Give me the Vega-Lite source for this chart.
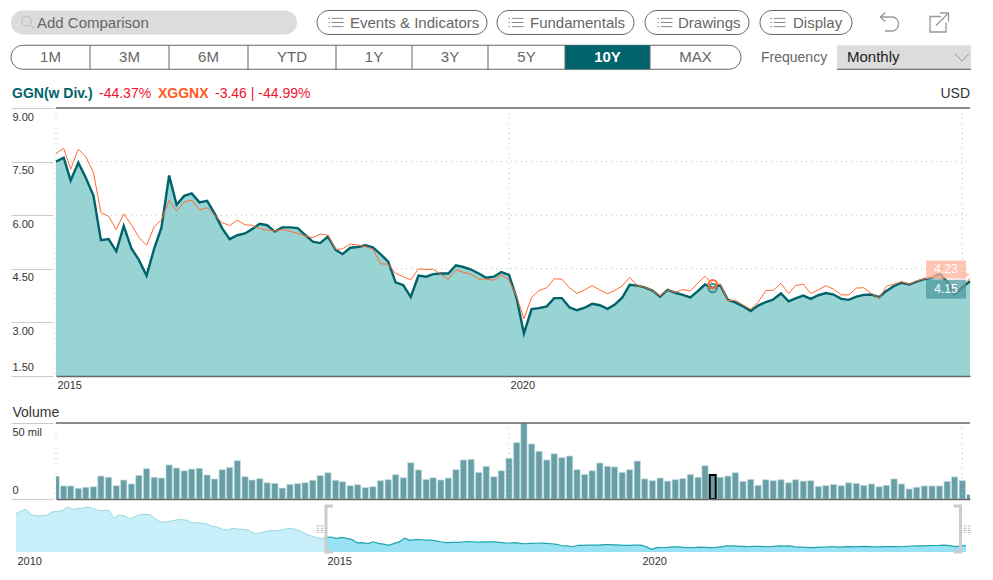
{"$schema":"https://vega.github.io/schema/vega-lite/v6.json","width":993,"height":580,"padding":0,"autosize":{"type":"none"},"background":"white","config":{"font":"Liberation Sans","view":{"stroke":null},"axis":{"labelFont":"Liberation Sans","titleFont":"Liberation Sans"}},
"datasets":{
"price":[
{"date":"2015-01-01","ggn":7.50,"xggnx":7.73,"vol":14.9},{"date":"2015-02-01","ggn":7.61,"xggnx":7.87,"vol":8.6},{"date":"2015-03-01","ggn":6.97,"xggnx":7.29,"vol":8.6},{"date":"2015-04-01","ggn":7.47,"xggnx":7.85,"vol":7.0},{"date":"2015-05-01","ggn":7.05,"xggnx":7.64,"vol":7.7},{"date":"2015-06-01","ggn":6.55,"xggnx":7.19,"vol":8.1},{"date":"2015-07-01","ggn":5.30,"xggnx":6.07,"vol":15.1},{"date":"2015-08-01","ggn":5.33,"xggnx":5.97,"vol":14.3},{"date":"2015-09-01","ggn":4.99,"xggnx":5.60,"vol":8.8},{"date":"2015-10-01","ggn":5.70,"xggnx":6.04,"vol":12.5},{"date":"2015-11-01","ggn":5.07,"xggnx":5.73,"vol":9.9},{"date":"2015-12-01","ggn":4.75,"xggnx":5.38,"vol":15.6},
{"date":"2016-01-01","ggn":4.31,"xggnx":5.16,"vol":20.0},{"date":"2016-02-01","ggn":5.07,"xggnx":5.68,"vol":14.3},{"date":"2016-03-01","ggn":5.65,"xggnx":5.87,"vol":13.8},{"date":"2016-04-01","ggn":7.11,"xggnx":6.41,"vol":22.4},{"date":"2016-05-01","ggn":6.29,"xggnx":6.12,"vol":20.4},{"date":"2016-06-01","ggn":6.54,"xggnx":6.37,"vol":18.6},{"date":"2016-07-01","ggn":6.61,"xggnx":6.42,"vol":19.7},{"date":"2016-08-01","ggn":6.36,"xggnx":6.15,"vol":20.2},{"date":"2016-09-01","ggn":6.40,"xggnx":6.21,"vol":15.8},{"date":"2016-10-01","ggn":6.05,"xggnx":6.00,"vol":13.2},{"date":"2016-11-01","ggn":5.63,"xggnx":5.79,"vol":19.3},{"date":"2016-12-01","ggn":5.33,"xggnx":5.71,"vol":20.8},
{"date":"2017-01-01","ggn":5.44,"xggnx":5.86,"vol":25.2},{"date":"2017-02-01","ggn":5.49,"xggnx":5.73,"vol":14.7},{"date":"2017-03-01","ggn":5.61,"xggnx":5.72,"vol":12.5},{"date":"2017-04-01","ggn":5.76,"xggnx":5.63,"vol":13.4},{"date":"2017-05-01","ggn":5.72,"xggnx":5.58,"vol":10.7},{"date":"2017-06-01","ggn":5.54,"xggnx":5.56,"vol":10.3},{"date":"2017-07-01","ggn":5.66,"xggnx":5.60,"vol":7.2},{"date":"2017-08-01","ggn":5.66,"xggnx":5.55,"vol":9.6},{"date":"2017-09-01","ggn":5.64,"xggnx":5.49,"vol":10.1},{"date":"2017-10-01","ggn":5.45,"xggnx":5.42,"vol":10.7},{"date":"2017-11-01","ggn":5.26,"xggnx":5.37,"vol":12.3},{"date":"2017-12-01","ggn":5.22,"xggnx":5.47,"vol":15.4},
{"date":"2018-01-01","ggn":5.40,"xggnx":5.44,"vol":17.3},{"date":"2018-02-01","ggn":5.03,"xggnx":5.04,"vol":12.3},{"date":"2018-03-01","ggn":4.91,"xggnx":5.06,"vol":11.4},{"date":"2018-04-01","ggn":5.09,"xggnx":5.19,"vol":8.8},{"date":"2018-05-01","ggn":5.11,"xggnx":5.17,"vol":9.4},{"date":"2018-06-01","ggn":5.16,"xggnx":5.12,"vol":7.5},{"date":"2018-07-01","ggn":5.10,"xggnx":5.05,"vol":8.1},{"date":"2018-08-01","ggn":4.91,"xggnx":4.64,"vol":12.1},{"date":"2018-09-01","ggn":4.70,"xggnx":4.63,"vol":12.7},{"date":"2018-10-01","ggn":4.12,"xggnx":4.37,"vol":16.0},{"date":"2018-11-01","ggn":4.04,"xggnx":4.28,"vol":14.0},{"date":"2018-12-01","ggn":3.71,"xggnx":4.19,"vol":23.9},
{"date":"2019-01-01","ggn":4.31,"xggnx":4.50,"vol":19.1},{"date":"2019-02-01","ggn":4.28,"xggnx":4.48,"vol":12.9},{"date":"2019-03-01","ggn":4.35,"xggnx":4.49,"vol":14.0},{"date":"2019-04-01","ggn":4.37,"xggnx":4.35,"vol":12.5},{"date":"2019-05-01","ggn":4.37,"xggnx":4.21,"vol":13.8},{"date":"2019-06-01","ggn":4.60,"xggnx":4.47,"vol":19.3},{"date":"2019-07-01","ggn":4.55,"xggnx":4.40,"vol":25.7},{"date":"2019-08-01","ggn":4.48,"xggnx":4.35,"vol":26.1},{"date":"2019-09-01","ggn":4.37,"xggnx":4.21,"vol":17.5},{"date":"2019-10-01","ggn":4.25,"xggnx":4.21,"vol":21.5},{"date":"2019-11-01","ggn":4.28,"xggnx":4.18,"vol":14.7},{"date":"2019-12-01","ggn":4.41,"xggnx":4.33,"vol":18.6},
{"date":"2020-01-01","ggn":4.33,"xggnx":4.18,"vol":26.8},{"date":"2020-02-01","ggn":3.67,"xggnx":3.72,"vol":37.1},{"date":"2020-03-01","ggn":2.69,"xggnx":3.10,"vol":50},{"date":"2020-04-01","ggn":3.37,"xggnx":3.70,"vol":36.2},{"date":"2020-05-01","ggn":3.40,"xggnx":3.89,"vol":31.4},{"date":"2020-06-01","ggn":3.45,"xggnx":3.97,"vol":25.7},{"date":"2020-07-01","ggn":3.68,"xggnx":4.22,"vol":29.8},{"date":"2020-08-01","ggn":3.68,"xggnx":4.21,"vol":27.2},{"date":"2020-09-01","ggn":3.42,"xggnx":3.97,"vol":28.3},{"date":"2020-10-01","ggn":3.34,"xggnx":3.81,"vol":19.3},{"date":"2020-11-01","ggn":3.41,"xggnx":3.91,"vol":16.2},{"date":"2020-12-01","ggn":3.52,"xggnx":4.03,"vol":18.6},
{"date":"2021-01-01","ggn":3.48,"xggnx":3.91,"vol":23.7},{"date":"2021-02-01","ggn":3.38,"xggnx":3.80,"vol":21.5},{"date":"2021-03-01","ggn":3.49,"xggnx":3.89,"vol":21.1},{"date":"2021-04-01","ggn":3.69,"xggnx":4.02,"vol":17.5},{"date":"2021-05-01","ggn":4.05,"xggnx":4.26,"vol":19.3},{"date":"2021-06-01","ggn":4.03,"xggnx":4.03,"vol":25.0},{"date":"2021-07-01","ggn":3.98,"xggnx":3.99,"vol":13.2},{"date":"2021-08-01","ggn":3.89,"xggnx":3.89,"vol":12.1},{"date":"2021-09-01","ggn":3.72,"xggnx":3.74,"vol":13.8},{"date":"2021-10-01","ggn":3.91,"xggnx":3.91,"vol":11.8},{"date":"2021-11-01","ggn":3.83,"xggnx":3.84,"vol":12.7},{"date":"2021-12-01","ggn":3.77,"xggnx":3.92,"vol":13.4},
{"date":"2022-01-01","ggn":3.70,"xggnx":3.88,"vol":16.2},{"date":"2022-02-01","ggn":3.88,"xggnx":4.11,"vol":14.3},{"date":"2022-03-01","ggn":4.06,"xggnx":4.29,"vol":21.9},{"date":"2022-04-01","ggn":3.96,"xggnx":4.07,"vol":15.8},{"date":"2022-05-01","ggn":4.04,"xggnx":4.07,"vol":14.3},{"date":"2022-06-01","ggn":3.63,"xggnx":3.61,"vol":15.1},{"date":"2022-07-01","ggn":3.56,"xggnx":3.62,"vol":17.3},{"date":"2022-08-01","ggn":3.45,"xggnx":3.49,"vol":11.6},{"date":"2022-09-01","ggn":3.32,"xggnx":3.37,"vol":12.9},{"date":"2022-10-01","ggn":3.47,"xggnx":3.56,"vol":9.0},{"date":"2022-11-01","ggn":3.57,"xggnx":3.89,"vol":12.7},{"date":"2022-12-01","ggn":3.64,"xggnx":3.90,"vol":12.1},
{"date":"2023-01-01","ggn":3.81,"xggnx":4.09,"vol":12.7},{"date":"2023-02-01","ggn":3.59,"xggnx":3.81,"vol":10.7},{"date":"2023-03-01","ggn":3.67,"xggnx":4.03,"vol":12.7},{"date":"2023-04-01","ggn":3.75,"xggnx":4.07,"vol":11.8},{"date":"2023-05-01","ggn":3.66,"xggnx":3.81,"vol":12.1},{"date":"2023-06-01","ggn":3.76,"xggnx":3.91,"vol":8.3},{"date":"2023-07-01","ggn":3.82,"xggnx":4.03,"vol":8.8},{"date":"2023-08-01","ggn":3.78,"xggnx":3.93,"vol":9.6},{"date":"2023-09-01","ggn":3.66,"xggnx":3.77,"vol":8.8},{"date":"2023-10-01","ggn":3.63,"xggnx":3.77,"vol":10.7},{"date":"2023-11-01","ggn":3.72,"xggnx":3.96,"vol":10.3},{"date":"2023-12-01","ggn":3.77,"xggnx":3.97,"vol":9.0},
{"date":"2024-01-01","ggn":3.78,"xggnx":3.81,"vol":9.9},{"date":"2024-02-01","ggn":3.71,"xggnx":3.67,"vol":8.1},{"date":"2024-03-01","ggn":3.88,"xggnx":4.01,"vol":9.0},{"date":"2024-04-01","ggn":4.02,"xggnx":4.07,"vol":13.2},{"date":"2024-05-01","ggn":4.11,"xggnx":4.14,"vol":9.9},{"date":"2024-06-01","ggn":4.06,"xggnx":4.07,"vol":6.6},{"date":"2024-07-01","ggn":4.14,"xggnx":4.16,"vol":7.7},{"date":"2024-08-01","ggn":4.21,"xggnx":4.22,"vol":8.6},{"date":"2024-09-01","ggn":4.25,"xggnx":4.28,"vol":8.6},{"date":"2024-10-01","ggn":4.37,"xggnx":4.26,"vol":8.6},{"date":"2024-11-01","ggn":4.14,"xggnx":4.14,"vol":11.6},{"date":"2024-12-01","ggn":3.79,"xggnx":3.81,"vol":14.5},
{"date":"2025-01-01","ggn":3.98,"xggnx":4.00,"vol":12.1},{"date":"2025-02-01","ggn":4.15,"xggnx":4.23,"vol":2.9}],
"hist":[
{"date":"2010-01-01","ggn":17.0},{"date":"2010-02-01","ggn":18.06},{"date":"2010-03-01","ggn":18.73},{"date":"2010-04-01","ggn":16.59},{"date":"2010-05-01","ggn":16.05},{"date":"2010-06-01","ggn":16.19},{"date":"2010-07-01","ggn":16.32},{"date":"2010-08-01","ggn":17.66},{"date":"2010-09-01","ggn":17.93},{"date":"2010-10-01","ggn":18.20},{"date":"2010-11-01","ggn":19.67},{"date":"2010-12-01","ggn":18.73},
{"date":"2011-01-01","ggn":19.13},{"date":"2011-02-01","ggn":19.27},{"date":"2011-03-01","ggn":19.67},{"date":"2011-04-01","ggn":19.0},{"date":"2011-05-01","ggn":18.33},{"date":"2011-06-01","ggn":18.20},{"date":"2011-07-01","ggn":18.46},{"date":"2011-08-01","ggn":15.1},{"date":"2011-09-01","ggn":16.45},{"date":"2011-10-01","ggn":16.19},{"date":"2011-11-01","ggn":14.85},{"date":"2011-12-01","ggn":15.79},
{"date":"2012-01-01","ggn":16.72},{"date":"2012-02-01","ggn":16.72},{"date":"2012-03-01","ggn":16.59},{"date":"2012-04-01","ggn":14.98},{"date":"2012-05-01","ggn":13.64},{"date":"2012-06-01","ggn":13.64},{"date":"2012-07-01","ggn":14.04},{"date":"2012-08-01","ggn":14.45},{"date":"2012-09-01","ggn":14.71},{"date":"2012-10-01","ggn":14.31},{"date":"2012-11-01","ggn":13.37},{"date":"2012-12-01","ggn":13.37},
{"date":"2013-01-01","ggn":13.1},{"date":"2013-02-01","ggn":12.84},{"date":"2013-03-01","ggn":11.90},{"date":"2013-04-01","ggn":11.63},{"date":"2013-05-01","ggn":10.70},{"date":"2013-06-01","ggn":10.43},{"date":"2013-07-01","ggn":11.10},{"date":"2013-08-01","ggn":10.83},{"date":"2013-09-01","ggn":10.70},{"date":"2013-10-01","ggn":10.43},{"date":"2013-11-01","ggn":9.09},{"date":"2013-12-01","ggn":9.09},
{"date":"2014-01-01","ggn":9.76},{"date":"2014-02-01","ggn":10.16},{"date":"2014-03-01","ggn":10.16},{"date":"2014-04-01","ggn":10.30},{"date":"2014-05-01","ggn":10.70},{"date":"2014-06-01","ggn":11.10},{"date":"2014-07-01","ggn":10.83},{"date":"2014-08-01","ggn":10.16},{"date":"2014-09-01","ggn":8.96},{"date":"2014-10-01","ggn":8.15},{"date":"2014-11-01","ggn":7.48},{"date":"2014-12-01","ggn":6.95},{"date":"2015-01-01","ggn":7.50}],
"frame":[{"start":"2015-01-01","end":"2025-02-01","priceTop":9,"volTop":50}],
"yearMarks":[{"date":"2015-01-01","priceTop":9,"priceBottom":1.5,"volTop":50,"volBottom":0},{"date":"2020-01-01","priceTop":9,"priceBottom":1.5,"volTop":50,"volBottom":0},{"date":"2025-01-01","priceTop":9,"priceBottom":1.5,"volTop":50,"volBottom":0}],
"levels":[{"start":"2015-01-01","end":"2025-02-01","level":3},{"start":"2015-01-01","end":"2025-02-01","level":4.5},{"start":"2015-01-01","end":"2025-02-01","level":6},{"start":"2015-01-01","end":"2025-02-01","level":7.5}],
"edgeBars":[{"date":"2015-01-01","until":"2015-01-14","vol":14.9,"base":0},{"date":"2025-01-19","until":"2025-02-01","vol":2.9,"base":0}],
"brackets":[{"date":"2015-01-01","ggn":10.84}],
"bracketsEnd":[{"date":"2025-02-01","ggn":10.84}]
},
"resolve":{"scale":{"x":"independent","y":"independent","color":"independent"},"axis":{"x":"independent","y":"independent"}},
"layer":[
{"data":{"values":[
{"row":"tools","label":"Add Comparison","start":0,"icon":1,"text":2,"end":3},
{"row":"tools","label":"Events & Indicators","start":4,"icon":5,"text":6,"end":7},
{"row":"tools","label":"Fundamentals","start":8,"icon":9,"text":10,"end":11},
{"row":"tools","label":"Drawings","start":12,"icon":13,"text":14,"end":15},
{"row":"tools","label":"Display","start":16,"icon":17,"text":18,"end":19}]},
"encoding":{"y":{"field":"row","type":"nominal","scale":{"type":"point","domain":["tools","range","legend"],"range":[22.5,92],"padding":0},"axis":null}},
"layer":[
{"transform":[{"filter":"datum.start==0"}],"mark":{"type":"bar","orient":"horizontal","height":24,"cornerRadius":12,"fill":"#DCDCDC"},"encoding":{"x":{"field":"start","type":"quantitative","axis":null,"scale":{"domain":[0,1,2,3,4,5,6,7,8,9,10,11,12,13,14,15,16,17,18,19,20,21,22],"range":[11,28,37,297,317,336,350,487,497,516,530,634,645,665,678,749,760,778,793,852,889,939,993]}},"x2":{"field":"end"}}},
{"transform":[{"filter":"datum.start>0"}],"mark":{"type":"bar","orient":"horizontal","height":24,"cornerRadius":12,"fill":"white","stroke":"#666666","strokeWidth":1},"encoding":{"x":{"field":"start","type":"quantitative","axis":null,"scale":{"domain":[0,1,2,3,4,5,6,7,8,9,10,11,12,13,14,15,16,17,18,19,20,21,22],"range":[11,28,37,297,317,336,350,487,497,516,530,634,645,665,678,749,760,778,793,852,889,939,993]}},"x2":{"field":"end"}}},
{"mark":{"type":"text","align":"left","baseline":"middle","fontSize":15,"color":"#666666","dy":0.5},"encoding":{"x":{"field":"text","type":"quantitative","axis":null,"scale":{"domain":[0,1,2,3,4,5,6,7,8,9,10,11,12,13,14,15,16,17,18,19,20,21,22],"range":[11,28,37,297,317,336,350,487,497,516,530,634,645,665,678,749,760,778,793,852,889,939,993]}},"text":{"field":"label"}}},
{"transform":[{"filter":"datum.start>0"}],"mark":{"type":"point","shape":"M-1,-0.55H-0.8M-1,0H-0.8M-1,0.55H-0.8M-0.55,-0.55H1M-0.55,0H1M-0.55,0.55H1","size":225,"filled":false,"stroke":"#888888","strokeWidth":1,"opacity":1},"encoding":{"x":{"field":"icon","type":"quantitative","axis":null,"scale":{"domain":[0,1,2,3,4,5,6,7,8,9,10,11,12,13,14,15,16,17,18,19,20,21,22],"range":[11,28,37,297,317,336,350,487,497,516,530,634,645,665,678,749,760,778,793,852,889,939,993]}}}},
{"transform":[{"filter":"datum.start==0"}],"mark":{"type":"point","shape":"M0.5,-0.2A0.7,0.7 0 1,0 -0.9,-0.2A0.7,0.7 0 1,0 0.5,-0.2M0.3,0.3L1,1","size":196,"filled":false,"stroke":"#BBBBBB","strokeWidth":1,"opacity":1},"encoding":{"x":{"field":"icon","type":"quantitative","axis":null,"scale":{"domain":[0,1,2,3,4,5,6,7,8,9,10,11,12,13,14,15,16,17,18,19,20,21,22],"range":[11,28,37,297,317,336,350,487,497,516,530,634,645,665,678,749,760,778,793,852,889,939,993]}}}},
{"data":{"values":[{"row":"tools","icon":20}]},"mark":{"type":"point","shape":"M-0.9,-0.55L-0.35,-1M-0.9,-0.55L-0.35,-0.1M-0.9,-0.55L0.35,-0.55A0.6,0.7 0 0 1 0.35,0.85L-0.4,0.85","size":400,"filled":false,"stroke":"#999999","strokeWidth":1.3,"opacity":1},"encoding":{"x":{"field":"icon","type":"quantitative","axis":null,"scale":{"domain":[0,1,2,3,4,5,6,7,8,9,10,11,12,13,14,15,16,17,18,19,20,21,22],"range":[11,28,37,297,317,336,350,487,497,516,530,634,645,665,678,749,760,778,793,852,889,939,993]}}}},
{"data":{"values":[{"row":"tools","icon":21}]},"mark":{"type":"point","shape":"M0.2,-0.6L-0.9,-0.6L-0.9,0.95L0.7,0.95L0.7,0M-0.3,0.3L0.85,-0.85M0.1,-0.95L0.95,-0.95L0.95,-0.1","size":400,"filled":false,"stroke":"#999999","strokeWidth":1.3,"opacity":1},"encoding":{"x":{"field":"icon","type":"quantitative","axis":null,"scale":{"domain":[0,1,2,3,4,5,6,7,8,9,10,11,12,13,14,15,16,17,18,19,20,21,22],"range":[11,28,37,297,317,336,350,487,497,516,530,634,645,665,678,749,760,778,793,852,889,939,993]}}}}
]},
{"data":{"values":[
{"row":"range","label":"1M","start":0,"mid":0.5,"end":1},{"row":"range","label":"3M","start":1,"mid":1.5,"end":2},{"row":"range","label":"6M","start":2,"mid":2.5,"end":3},{"row":"range","label":"YTD","start":3,"mid":3.5,"end":4},{"row":"range","label":"1Y","start":4,"mid":4.5,"end":5},{"row":"range","label":"3Y","start":5,"mid":5.5,"end":6},{"row":"range","label":"5Y","start":6,"mid":6.5,"end":7},{"row":"range","label":"10Y","start":7,"mid":7.5,"end":8},{"row":"range","label":"MAX","start":8,"mid":8.5,"end":9}]},
"encoding":{"y":{"field":"row","type":"nominal","scale":{"type":"point","domain":["tools","range","legend"],"range":[22.5,92],"padding":0},"axis":null}},
"layer":[
{"data":{"values":[{"row":"range","start":0,"end":9}]},"mark":{"type":"bar","orient":"horizontal","height":24,"cornerRadius":12,"fill":"white","stroke":"#666666","strokeWidth":1},"encoding":{"x":{"field":"start","type":"quantitative","axis":null,"scale":{"domain":[0,1,2,3,4,5,6,7,8,9,10,11,12,13,14],"range":[11,90,169,248,336,412,488,565,650,741,761,837,847,962,971]}},"x2":{"field":"end"}}},
{"transform":[{"filter":"datum.label=='10Y'"}],"mark":{"type":"bar","orient":"horizontal","height":24,"fill":"#00636B"},"encoding":{"x":{"field":"start","type":"quantitative","axis":null,"scale":{"domain":[0,1,2,3,4,5,6,7,8,9,10,11,12,13,14],"range":[11,90,169,248,336,412,488,565,650,741,761,837,847,962,971]}},"x2":{"field":"end"}}},
{"transform":[{"filter":"datum.start>0"}],"mark":{"type":"tick","size":24,"thickness":1,"orient":"vertical","color":"#666666","opacity":1},"encoding":{"x":{"field":"start","type":"quantitative","axis":null,"scale":{"domain":[0,1,2,3,4,5,6,7,8,9,10,11,12,13,14],"range":[11,90,169,248,336,412,488,565,650,741,761,837,847,962,971]}}}},
{"transform":[{"filter":"datum.label!='10Y'"}],"mark":{"type":"text","align":"center","baseline":"middle","fontSize":15,"color":"#666666"},"encoding":{"x":{"field":"mid","type":"quantitative","axis":null,"scale":{"domain":[0,1,2,3,4,5,6,7,8,9,10,11,12,13,14],"range":[11,90,169,248,336,412,488,565,650,741,761,837,847,962,971]}},"text":{"field":"label"}}},
{"transform":[{"filter":"datum.label=='10Y'"}],"mark":{"type":"text","align":"center","baseline":"middle","fontSize":15,"fontWeight":"bold","color":"white"},"encoding":{"x":{"field":"mid","type":"quantitative","axis":null,"scale":{"domain":[0,1,2,3,4,5,6,7,8,9,10,11,12,13,14],"range":[11,90,169,248,336,412,488,565,650,741,761,837,847,962,971]}},"text":{"field":"label"}}},
{"data":{"values":[{"row":"range","label":"Frequency","start":10}]},"mark":{"type":"text","align":"left","baseline":"middle","fontSize":14,"color":"#666666","dy":1},"encoding":{"x":{"field":"start","type":"quantitative","axis":null,"scale":{"domain":[0,1,2,3,4,5,6,7,8,9,10,11,12,13,14],"range":[11,90,169,248,336,412,488,565,650,741,761,837,847,962,971]}},"text":{"field":"label"}}},
{"data":{"values":[{"row":"range","start":11,"end":14}]},"mark":{"type":"bar","orient":"horizontal","height":24,"fill":"#DCDCDC"},"encoding":{"x":{"field":"start","type":"quantitative","axis":null,"scale":{"domain":[0,1,2,3,4,5,6,7,8,9,10,11,12,13,14],"range":[11,90,169,248,336,412,488,565,650,741,761,837,847,962,971]}},"x2":{"field":"end"}}},
{"data":{"values":[{"row":"range","start":11,"end":14}]},"mark":{"type":"bar","orient":"horizontal","height":1,"yOffset":12,"fill":"#555555"},"encoding":{"x":{"field":"start","type":"quantitative","axis":null,"scale":{"domain":[0,1,2,3,4,5,6,7,8,9,10,11,12,13,14],"range":[11,90,169,248,336,412,488,565,650,741,761,837,847,962,971]}},"x2":{"field":"end"}}},
{"data":{"values":[{"row":"range","label":"Monthly","start":12}]},"mark":{"type":"text","align":"left","baseline":"middle","fontSize":15,"color":"#222222"},"encoding":{"x":{"field":"start","type":"quantitative","axis":null,"scale":{"domain":[0,1,2,3,4,5,6,7,8,9,10,11,12,13,14],"range":[11,90,169,248,336,412,488,565,650,741,761,837,847,962,971]}},"text":{"field":"label"}}},
{"data":{"values":[{"row":"range","start":13}]},"mark":{"type":"point","shape":"M-1,-0.5L0,0.55L1,-0.5","size":196,"filled":false,"stroke":"#999999","strokeWidth":1,"opacity":1},"encoding":{"x":{"field":"start","type":"quantitative","axis":null,"scale":{"domain":[0,1,2,3,4,5,6,7,8,9,10,11,12,13,14],"range":[11,90,169,248,336,412,488,565,650,741,761,837,847,962,971]}}}}
]},
{"data":{"values":[
{"row":"legend","label":"GGN(w Div.)","slot":0,"kind":"fund"},{"row":"legend","label":"-44.37%","slot":1,"kind":"change"},{"row":"legend","label":"XGGNX","slot":2,"kind":"index"},{"row":"legend","label":"-3.46 | -44.99%","slot":3,"kind":"change"}]},
"encoding":{"y":{"field":"row","type":"nominal","scale":{"type":"point","domain":["tools","range","legend"],"range":[22.5,92],"padding":0},"axis":null},"x":{"field":"slot","type":"quantitative","axis":null,"scale":{"domain":[0,1,2,3,4],"range":[12,99,158,215,970]}},"text":{"field":"label"},"color":{"field":"kind","type":"nominal","legend":null,"scale":{"domain":["fund","change","index","unit"],"range":["#00636B","#F0142D","#FF5A1F","#333333"]}}},
"layer":[
{"transform":[{"filter":"datum.kind!='change'"}],"mark":{"type":"text","align":"left","baseline":"middle","fontSize":14,"fontWeight":"bold","dy":1.5}},
{"transform":[{"filter":"datum.kind=='change'"}],"mark":{"type":"text","align":"left","baseline":"middle","fontSize":14,"dy":1.5}},
{"data":{"values":[{"row":"legend","label":"USD","slot":4,"kind":"unit"}]},"mark":{"type":"text","align":"right","baseline":"middle","fontSize":14,"dy":1.5}}
]},
{"data":{"name":"price"},
"encoding":{"x":{"field":"date","type":"temporal","scale":{"type":"utc","domain":[{"year":2015,"month":1,"date":1,"utc":true},{"year":2025,"month":2,"date":1,"utc":true}],"range":[56,970],"nice":false},"axis":{"orient":"bottom","offset":-204,"values":[{"year":2015,"month":1,"date":1,"utc":true},{"year":2020,"month":1,"date":1,"utc":true},{"year":2025,"month":1,"date":1,"utc":true}],"format":"%Y","labelExpr":"datum.label=='2025'?'':datum.label","labelAlign":"left","labelOffset":1,"labelPadding":3,"labelFontSize":11,"labelColor":"#333333","labelOverlap":false,"labelBound":false,"labelFlush":false,"ticks":false,"domain":true,"domainColor":"#666666","domainWidth":1.5,"grid":false,"zindex":1,"title":null}},
"y":{"field":"ggn","type":"quantitative","scale":{"domain":[1.5,9],"range":[376,108],"zero":false,"nice":false},"axis":{"orient":"left","offset":-53,"values":[1.5,3,4.5,6,7.5,9],"format":".2f","domain":false,"tickSize":42,"tickColor":"#CCCCCC","tickWidth":1,"labelAlign":"left","labelPadding":-1,"labelBaseline":{"condition":{"test":"datum.value==1.5","value":"bottom"},"value":"top"},"labelOffset":{"condition":{"test":"datum.value==1.5","value":-4},"value":3},"labelFontSize":11,"labelColor":"#333333","labelBound":false,"labelFlush":false,"labelOverlap":false,"grid":false,"zindex":1,"title":null}}},
"layer":[
{"mark":{"type":"area","fill":"#99D4D4","line":false},"encoding":{"y2":{"datum":1.5}}},
{"data":{"name":"levels"},"mark":{"type":"rule","stroke":"#BDBDBD","strokeWidth":1,"strokeDash":[1,4]},"encoding":{"x":{"field":"start","type":"temporal"},"x2":{"field":"end"},"y":{"field":"level","type":"quantitative"}}},
{"data":{"name":"yearMarks"},"mark":{"type":"rule","stroke":"#BDBDBD","strokeWidth":1,"strokeDash":[1,4]},"encoding":{"y":{"field":"priceTop","type":"quantitative"},"y2":{"field":"priceBottom"}}},
{"mark":{"type":"line","stroke":"#00636B","strokeWidth":2.4,"interpolate":"linear"}},
{"mark":{"type":"line","stroke":"#FF6A33","strokeWidth":1,"interpolate":"linear"},"encoding":{"y":{"field":"xggnx","type":"quantitative"}}},
{"transform":[{"filter":"utcyear(datum.date)==2022&&utcmonth(datum.date)==3"}],"mark":{"type":"point","filled":false,"stroke":"#3E8A90","strokeWidth":2,"size":70,"opacity":1}},
{"transform":[{"filter":"utcyear(datum.date)==2022&&utcmonth(datum.date)==3"}],"mark":{"type":"point","filled":false,"stroke":"#FF6A33","strokeWidth":2,"size":70,"opacity":1},"encoding":{"y":{"field":"xggnx","type":"quantitative"}}},
{"transform":[{"filter":"utcyear(datum.date)==2025&&utcmonth(datum.date)==1"}],"mark":{"type":"rect","width":40,"height":18,"xOffset":-24,"yOffset":-9,"fill":"#FFB39A","opacity":0.75},"encoding":{"y":{"field":"xggnx","type":"quantitative"}}},
{"transform":[{"filter":"utcyear(datum.date)==2025&&utcmonth(datum.date)==1"}],"mark":{"type":"point","shape":"triangle-right","size":40,"filled":true,"fill":"#FFB39A","opacity":0.75,"xOffset":-3,"yOffset":-4},"encoding":{"y":{"field":"xggnx","type":"quantitative"}}},
{"transform":[{"filter":"utcyear(datum.date)==2025&&utcmonth(datum.date)==1"}],"mark":{"type":"rect","width":40,"height":19,"xOffset":-24,"yOffset":8,"fill":"#4F9AA0","opacity":0.75}},
{"transform":[{"filter":"utcyear(datum.date)==2025&&utcmonth(datum.date)==1"}],"mark":{"type":"text","align":"center","baseline":"middle","fontSize":12,"color":"white","dx":-24,"dy":-9},"encoding":{"y":{"field":"xggnx","type":"quantitative"},"text":{"field":"xggnx","format":".2f"}}},
{"transform":[{"filter":"utcyear(datum.date)==2025&&utcmonth(datum.date)==1"}],"mark":{"type":"text","align":"center","baseline":"middle","fontSize":12,"color":"white","dx":-24,"dy":8},"encoding":{"text":{"field":"ggn","format":".2f"}}},
{"data":{"name":"frame"},"mark":{"type":"rule","stroke":"#666666","strokeWidth":1.5},"encoding":{"x":{"field":"start","type":"temporal"},"x2":{"field":"end"},"y":{"field":"priceTop","type":"quantitative"}}}
]},
{"data":{"name":"price"},
"encoding":{"x":{"field":"date","type":"temporal","scale":{"type":"utc","domain":[{"year":2015,"month":1,"date":1,"utc":true},{"year":2025,"month":2,"date":1,"utc":true}],"range":[56,970],"nice":false,"padding":0},"axis":{"orient":"bottom","offset":-81,"values":[{"year":2015,"month":1,"date":1,"utc":true},{"year":2020,"month":1,"date":1,"utc":true},{"year":2025,"month":1,"date":1,"utc":true}],"labels":false,"ticks":false,"domain":true,"domainColor":"#666666","domainWidth":1.5,"grid":false,"zindex":1,"title":null}},
"y":{"field":"vol","type":"quantitative","stack":null,"scale":{"domain":[0,50],"range":[499,423],"nice":false,"padding":0},"axis":{"orient":"left","offset":-53,"values":[0,50],"labelExpr":"datum.value==50?'50 mil':'0'","domain":false,"tickSize":42,"tickColor":"#CCCCCC","tickWidth":1,"labelAlign":"left","labelPadding":-1,"labelBaseline":{"condition":{"test":"datum.value==0","value":"bottom"},"value":"top"},"labelOffset":{"condition":{"test":"datum.value==0","value":-4},"value":3},"labelFontSize":11,"labelColor":"#333333","labelBound":false,"labelFlush":false,"labelOverlap":false,"grid":false,"title":"Volume","titleAngle":0,"titleAlign":"left","titleBaseline":"middle","titleX":-41,"titleY":412,"titleFontSize":14,"titleFontWeight":"normal","titleColor":"#333333","zindex":1}}},
"layer":[
{"transform":[{"filter":"!(utcyear(datum.date)==2015&&utcmonth(datum.date)==0)&&!(utcyear(datum.date)==2025&&utcmonth(datum.date)==1)"}],"mark":{"type":"bar","width":6.3,"fill":"#689FA6","stroke":"#C7DFE1","strokeWidth":0.7}},
{"data":{"name":"edgeBars"},"mark":{"type":"rect","fill":"#689FA6"},"encoding":{"x2":{"field":"until"},"y2":{"field":"base"}}},
{"transform":[{"filter":"utcyear(datum.date)==2022&&utcmonth(datum.date)==3"}],"mark":{"type":"bar","width":6,"fill":"#689FA6","fillOpacity":0,"stroke":"#000000","strokeWidth":2}},
{"data":{"name":"yearMarks"},"mark":{"type":"rule","stroke":"#BDBDBD","strokeWidth":1,"strokeDash":[1,4]},"encoding":{"y":{"field":"volTop","type":"quantitative"},"y2":{"field":"volBottom"}}},
{"data":{"name":"frame"},"mark":{"type":"rule","stroke":"#666666","strokeWidth":1.5},"encoding":{"x":{"field":"start","type":"temporal"},"x2":{"field":"end"},"y":{"field":"volTop","type":"quantitative"}}}
]},
{"encoding":{"x":{"field":"t","type":"quantitative","scale":{"domain":[1262304000000,1420070400000,1577836800000,1738368000000],"range":[16,326,641,966],"nice":false,"zero":false},"axis":{"orient":"bottom","offset":-28,"values":[1262304000000,1420070400000,1577836800000],"labelExpr":"utcFormat(datum.value,'%Y')","labelAlign":"left","labelOffset":1,"labelPadding":3,"labelFontSize":11,"labelColor":"#333333","labelOverlap":false,"labelBound":false,"labelFlush":false,"ticks":false,"domain":false,"grid":false,"title":null}},
"y":{"field":"ggn","type":"quantitative","scale":{"domain":[1.6,20],"range":[552,506.2],"zero":false,"nice":false},"axis":null}},
"layer":[
{"data":{"name":"hist"},"transform":[{"calculate":"time(datum.date)","as":"t"}],"mark":{"type":"area","fill":"#C9EFFA","orient":"vertical"},"encoding":{"y2":{"datum":1.6}}},
{"data":{"name":"hist"},"transform":[{"calculate":"time(datum.date)","as":"t"}],"mark":{"type":"line","stroke":"#9BD9DE","strokeWidth":1}},
{"data":{"name":"price"},"transform":[{"calculate":"time(datum.date)","as":"t"}],"mark":{"type":"area","fill":"#99E1F5","orient":"vertical"},"encoding":{"y2":{"datum":1.6}}},
{"data":{"name":"price"},"transform":[{"calculate":"time(datum.date)","as":"t"}],"mark":{"type":"line","stroke":"#1FA5AF","strokeWidth":1.2}},
{"data":{"name":"brackets"},"transform":[{"calculate":"time(datum.date)","as":"t"}],"mark":{"type":"point","shape":"M0.3,-1L0,-1L0,1L0.3,1","size":2116,"filled":false,"stroke":"#CCCCCC","strokeWidth":3,"opacity":1}},
{"data":{"name":"bracketsEnd"},"transform":[{"calculate":"time(datum.date)","as":"t"}],"mark":{"type":"point","shape":"M-0.3,-1L0,-1L0,1L-0.3,1","size":2116,"xOffset":-5.5,"filled":false,"stroke":"#CCCCCC","strokeWidth":3,"opacity":1}},
{"data":{"name":"brackets"},"transform":[{"calculate":"time(datum.date)","as":"t"}],"mark":{"type":"point","shape":"M-1,-1H-0.2V-0.75H-1ZM0.2,-1H1V-0.75H0.2ZM-1,-0.35H-0.2V-0.1H-1ZM0.2,-0.35H1V-0.1H0.2ZM-1,0.3H-0.2V0.55H-1ZM0.2,0.3H1V0.55H0.2ZM-1,0.9H-0.2V1.15H-1ZM0.2,0.9H1V1.15H0.2Z","size":49,"filled":true,"fill":"#BBBBBB","opacity":1,"xOffset":-6}},
{"data":{"name":"bracketsEnd"},"transform":[{"calculate":"time(datum.date)","as":"t"}],"mark":{"type":"point","shape":"M-1,-1H-0.2V-0.75H-1ZM0.2,-1H1V-0.75H0.2ZM-1,-0.35H-0.2V-0.1H-1ZM0.2,-0.35H1V-0.1H0.2ZM-1,0.3H-0.2V0.55H-1ZM0.2,0.3H1V0.55H0.2ZM-1,0.9H-0.2V1.15H-1ZM0.2,0.9H1V1.15H0.2Z","size":49,"filled":true,"fill":"#BBBBBB","opacity":1,"xOffset":1}}
]}
]}
